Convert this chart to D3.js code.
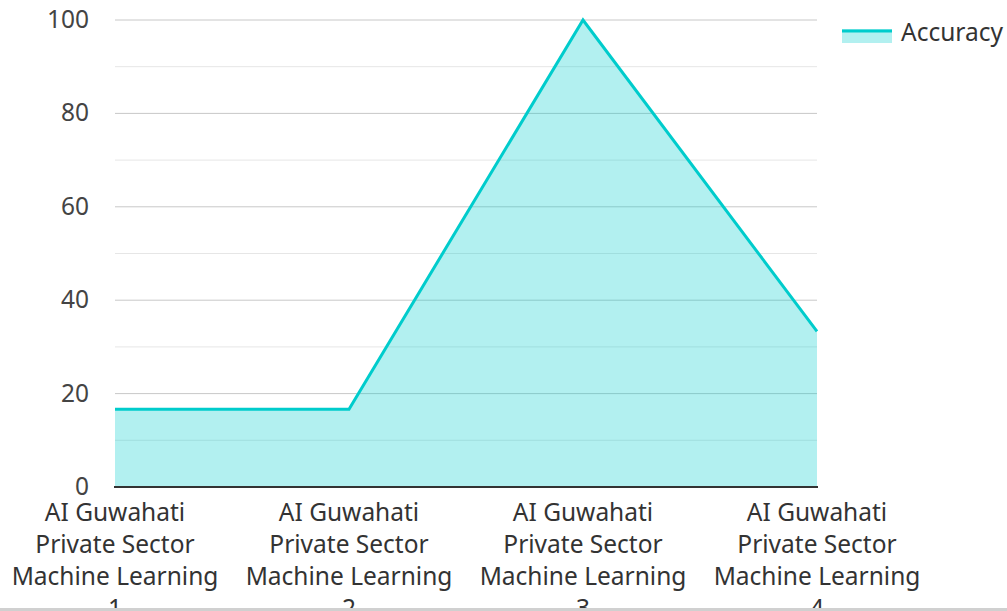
<!DOCTYPE html>
<html><head><meta charset="utf-8">
<script src="https://cdn.jsdelivr.net/npm/d3@7"></script>
<style>
html,body{margin:0;padding:0;background:#fff;overflow:hidden;}
svg{display:block;font-family:"Noto Sans","Open Sans",sans-serif;}
</style></head>
<body>
<svg id="c" width="1007" height="611"></svg>
<script>
const categories = ["AI Guwahati|Private Sector|Machine Learning|1","AI Guwahati|Private Sector|Machine Learning|2","AI Guwahati|Private Sector|Machine Learning|3","AI Guwahati|Private Sector|Machine Learning|4"];
const accuracy = [16.67, 16.67, 100, 33.33];
const yTicks = [0,20,40,60,80,100];
const yMinor = [10,30,50,70,90];
const seriesName = "Accuracy";

const svg = d3.select("#c");
const m = {l:115, r:817, t:20, b:487};
const x = d3.scalePoint().domain(categories.map((d,i)=>i)).range([m.l,m.r]);
const y = d3.scaleLinear().domain([0,100]).range([m.b,m.t]);
const fs = 24.5;

svg.selectAll(".minor").data(yMinor).enter().append("line")
  .attr("x1",m.l).attr("x2",m.r).attr("y1",d=>y(d)).attr("y2",d=>y(d))
  .attr("stroke","#e6e6e6").attr("stroke-width",1);
svg.selectAll(".major").data(yTicks.filter(d=>d>0)).enter().append("line")
  .attr("x1",m.l).attr("x2",m.r).attr("y1",d=>y(d)).attr("y2",d=>y(d))
  .attr("stroke","#c8c8c8").attr("stroke-width",1);

const data = accuracy.map((v,i)=>({i,v}));
svg.append("path").datum(data)
  .attr("d", d3.area().x(d=>x(d.i)).y0(y(0)).y1(d=>y(d.v)))
  .attr("fill","rgba(0,204,204,0.3)");
svg.append("path").datum(data)
  .attr("d", d3.line().x(d=>x(d.i)).y(d=>y(d.v)))
  .attr("fill","none").attr("stroke","#00cccc").attr("stroke-width",3);

svg.append("line").attr("x1",m.l-1).attr("x2",m.r+1).attr("y1",y(0)).attr("y2",y(0))
  .attr("stroke","#333").attr("stroke-width",2);

svg.selectAll(".yl").data(yTicks).enter().append("text")
  .attr("x",89).attr("y",d=>y(d)).attr("dy","0.33em").attr("text-anchor","end")
  .attr("font-size",fs).attr("fill","#444").text(d=>d);

categories.forEach((c,i)=>{
  const t = svg.append("text").attr("text-anchor","middle").attr("font-size",fs).attr("fill","#333");
  c.split("|").forEach((ln,j)=>{
    t.append("tspan").attr("x",x(i)).attr("y",521+j*32).text(ln);
  });
});

svg.append("rect").attr("x",842).attr("y",29).attr("width",50).attr("height",14).attr("fill","rgba(0,204,204,0.3)");
svg.append("line").attr("x1",842).attr("x2",892).attr("y1",31).attr("y2",31).attr("stroke","#00cccc").attr("stroke-width",3);
svg.append("text").attr("x",901).attr("y",32).attr("dy","0.35em").attr("font-size",fs).attr("fill","#333").text(seriesName);

svg.append("rect").attr("x",0).attr("y",608).attr("width",1007).attr("height",3).attr("fill","#d0d0d0");
</script>
</body></html>
